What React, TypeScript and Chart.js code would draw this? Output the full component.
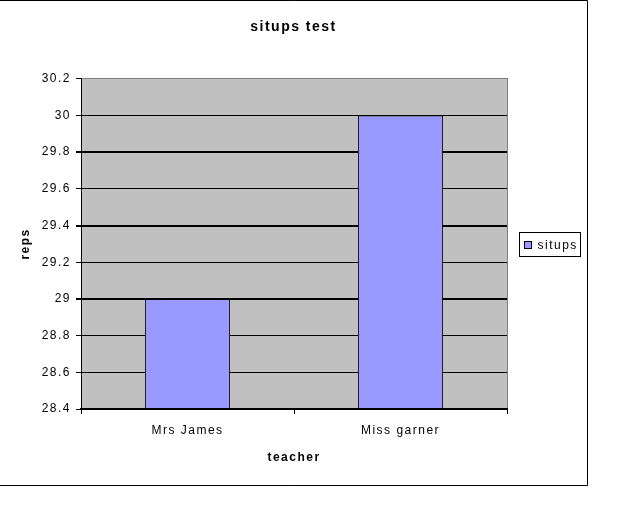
import React, { useEffect, useRef } from "react";
import { Chart, registerables } from "chart.js";

Chart.register(...registerables);

const categories = ["Mrs James", "Miss garner"];
const seriesLabel = "situps";
const seriesValues = [29, 30];
const yMin = 28.4;
const yMax = 30.2;
const yStep = 0.2;
const thickGridValues = ["29.8", "29.4", "29.0"];

const FONT = "'Liberation Sans', Arial, sans-serif";
const BAR_COLOR = "#9999FF";
const PLOT_BG = "#C0C0C0";

const stylePlugin = {
  id: "excelStyle",
  beforeLayout(chart: any) {
    chart.ctx.letterSpacing = "1.5px";
  },
  beforeDraw(chart: any) {
    const { ctx, chartArea } = chart;
    ctx.letterSpacing = "1.5px";
    ctx.save();
    ctx.fillStyle = "#ffffff";
    ctx.fillRect(0, 0, chart.width, chart.height);
    ctx.fillStyle = PLOT_BG;
    ctx.fillRect(chartArea.left, chartArea.top, chartArea.right - chartArea.left, chartArea.bottom - chartArea.top);
    ctx.restore();
  },
  afterDraw(chart: any) {
    const { ctx, chartArea } = chart;
    ctx.save();
    // outer frame (top, right, bottom)
    ctx.strokeStyle = "#000000";
    ctx.lineWidth = 1;
    const fr = 587.5;
    const fb = 485.5;
    ctx.beginPath();
    ctx.moveTo(0, 0.5);
    ctx.lineTo(fr, 0.5);
    ctx.lineTo(fr, fb);
    ctx.lineTo(0, fb);
    ctx.stroke();

    // legend box
    const ds = chart.data.datasets[0];
    ctx.font = `12px ${FONT}`;
    ctx.letterSpacing = "1.5px";
    const textW = ctx.measureText(ds.label).width;
    const boxW = Math.round(5 + 7 + 6 + textW + 3);
    const boxH = 24;
    const bx = Math.round(chartArea.right + 12) + 0.5;
    const by = Math.round((chartArea.top + chartArea.bottom) / 2 - boxH / 2) + 0.5;
    ctx.fillStyle = "#ffffff";
    ctx.fillRect(bx, by, boxW, boxH);
    ctx.strokeStyle = "#000000";
    ctx.strokeRect(bx, by, boxW, boxH);
    const sx = bx + 5;
    const sy = by + 9;
    ctx.fillStyle = ds.backgroundColor;
    ctx.fillRect(sx, sy, 7, 7);
    ctx.strokeRect(sx, sy, 7, 7);
    ctx.fillStyle = "#000000";
    ctx.textBaseline = "middle";
    ctx.textAlign = "left";
    ctx.fillText(ds.label, sx + 13, by + boxH / 2 + 1);
    ctx.restore();
  },
};

export default function App() {
  const canvasRef = useRef<HTMLCanvasElement | null>(null);

  useEffect(() => {
    if (!canvasRef.current) return;
    const chart = new Chart(canvasRef.current, {
      type: "bar",
      data: {
        labels: categories,
        datasets: [
          {
            label: seriesLabel,
            data: seriesValues,
            backgroundColor: BAR_COLOR,
            borderColor: "#000000",
            borderWidth: 1,
            categoryPercentage: 0.4,
            barPercentage: 1,
          },
        ],
      },
      options: {
        animation: false,
        responsive: false,
        devicePixelRatio: 1,
        layout: { padding: { top: 0, left: 0, right: 53, bottom: 27 } },
        plugins: {
          legend: { display: false },
          tooltip: { enabled: false },
          title: {
            display: true,
            text: "situps test",
            color: "#000000",
            font: { family: FONT, size: 14, weight: "bold" },
            padding: { top: 19, bottom: 43 },
          },
        },
        scales: {
          x: {
            type: "category",
            position: "bottom",
            offset: true,
            afterFit(scale: any) {
              scale.height = 76;
            },
            grid: {
              offset: true,
              drawOnChartArea: false,
              drawTicks: true,
              tickLength: 5,
              color: "#000000",
            },
            border: { display: true, color: "#000000", width: 2, z: 1 },
            ticks: {
              color: "#000000",
              padding: 9,
              maxRotation: 0,
              font: { family: FONT, size: 12 },
            },
            title: {
              display: true,
              text: "teacher",
              color: "#000000",
              font: { family: FONT, size: 12, weight: "bold" },
              padding: { top: 0, bottom: 20 },
            },
          },
          y: {
            type: "linear",
            position: "left",
            min: yMin,
            max: yMax,
            afterFit(scale: any) {
              scale.width = 81;
            },
            grid: {
              drawOnChartArea: true,
              drawTicks: true,
              tickLength: 5,
              tickColor: "#000000",
              color: (c: any) =>
                c.tick && Math.abs(c.tick.value - yMax) < 1e-6 ? "#808080" : "#000000",
              lineWidth: (c: any) =>
                c.tick && thickGridValues.includes(Number(c.tick.value).toFixed(1)) ? 2 : 1,
            },
            border: { display: true, color: "#000000", width: 1 },
            ticks: {
              stepSize: yStep,
              color: "#000000",
              padding: 5,
              font: { family: FONT, size: 12 },
              callback: (v: any) => String(parseFloat(Number(v).toFixed(1))),
            },
            title: {
              display: true,
              text: "reps",
              color: "#000000",
              font: { family: FONT, size: 12, weight: "bold" },
              padding: { top: 18, bottom: 0 },
            },
          },
          yRight: {
            type: "linear",
            position: "right",
            display: true,
            afterFit(scale: any) {
              scale.width = 80;
            },
            grid: { display: false, drawOnChartArea: false, drawTicks: false },
            border: { display: true, color: "#808080", width: 1 },
            ticks: { display: false },
          },
        },
      },
      plugins: [stylePlugin],
    } as any);
    return () => chart.destroy();
  }, []);

  return (
    <div style={{ position: "fixed", left: 0, top: 0, width: 640, height: 512, background: "#ffffff" }}>
      <canvas ref={canvasRef} width={640} height={512} style={{ width: 640, height: 512, display: "block" }} />
    </div>
  );
}
